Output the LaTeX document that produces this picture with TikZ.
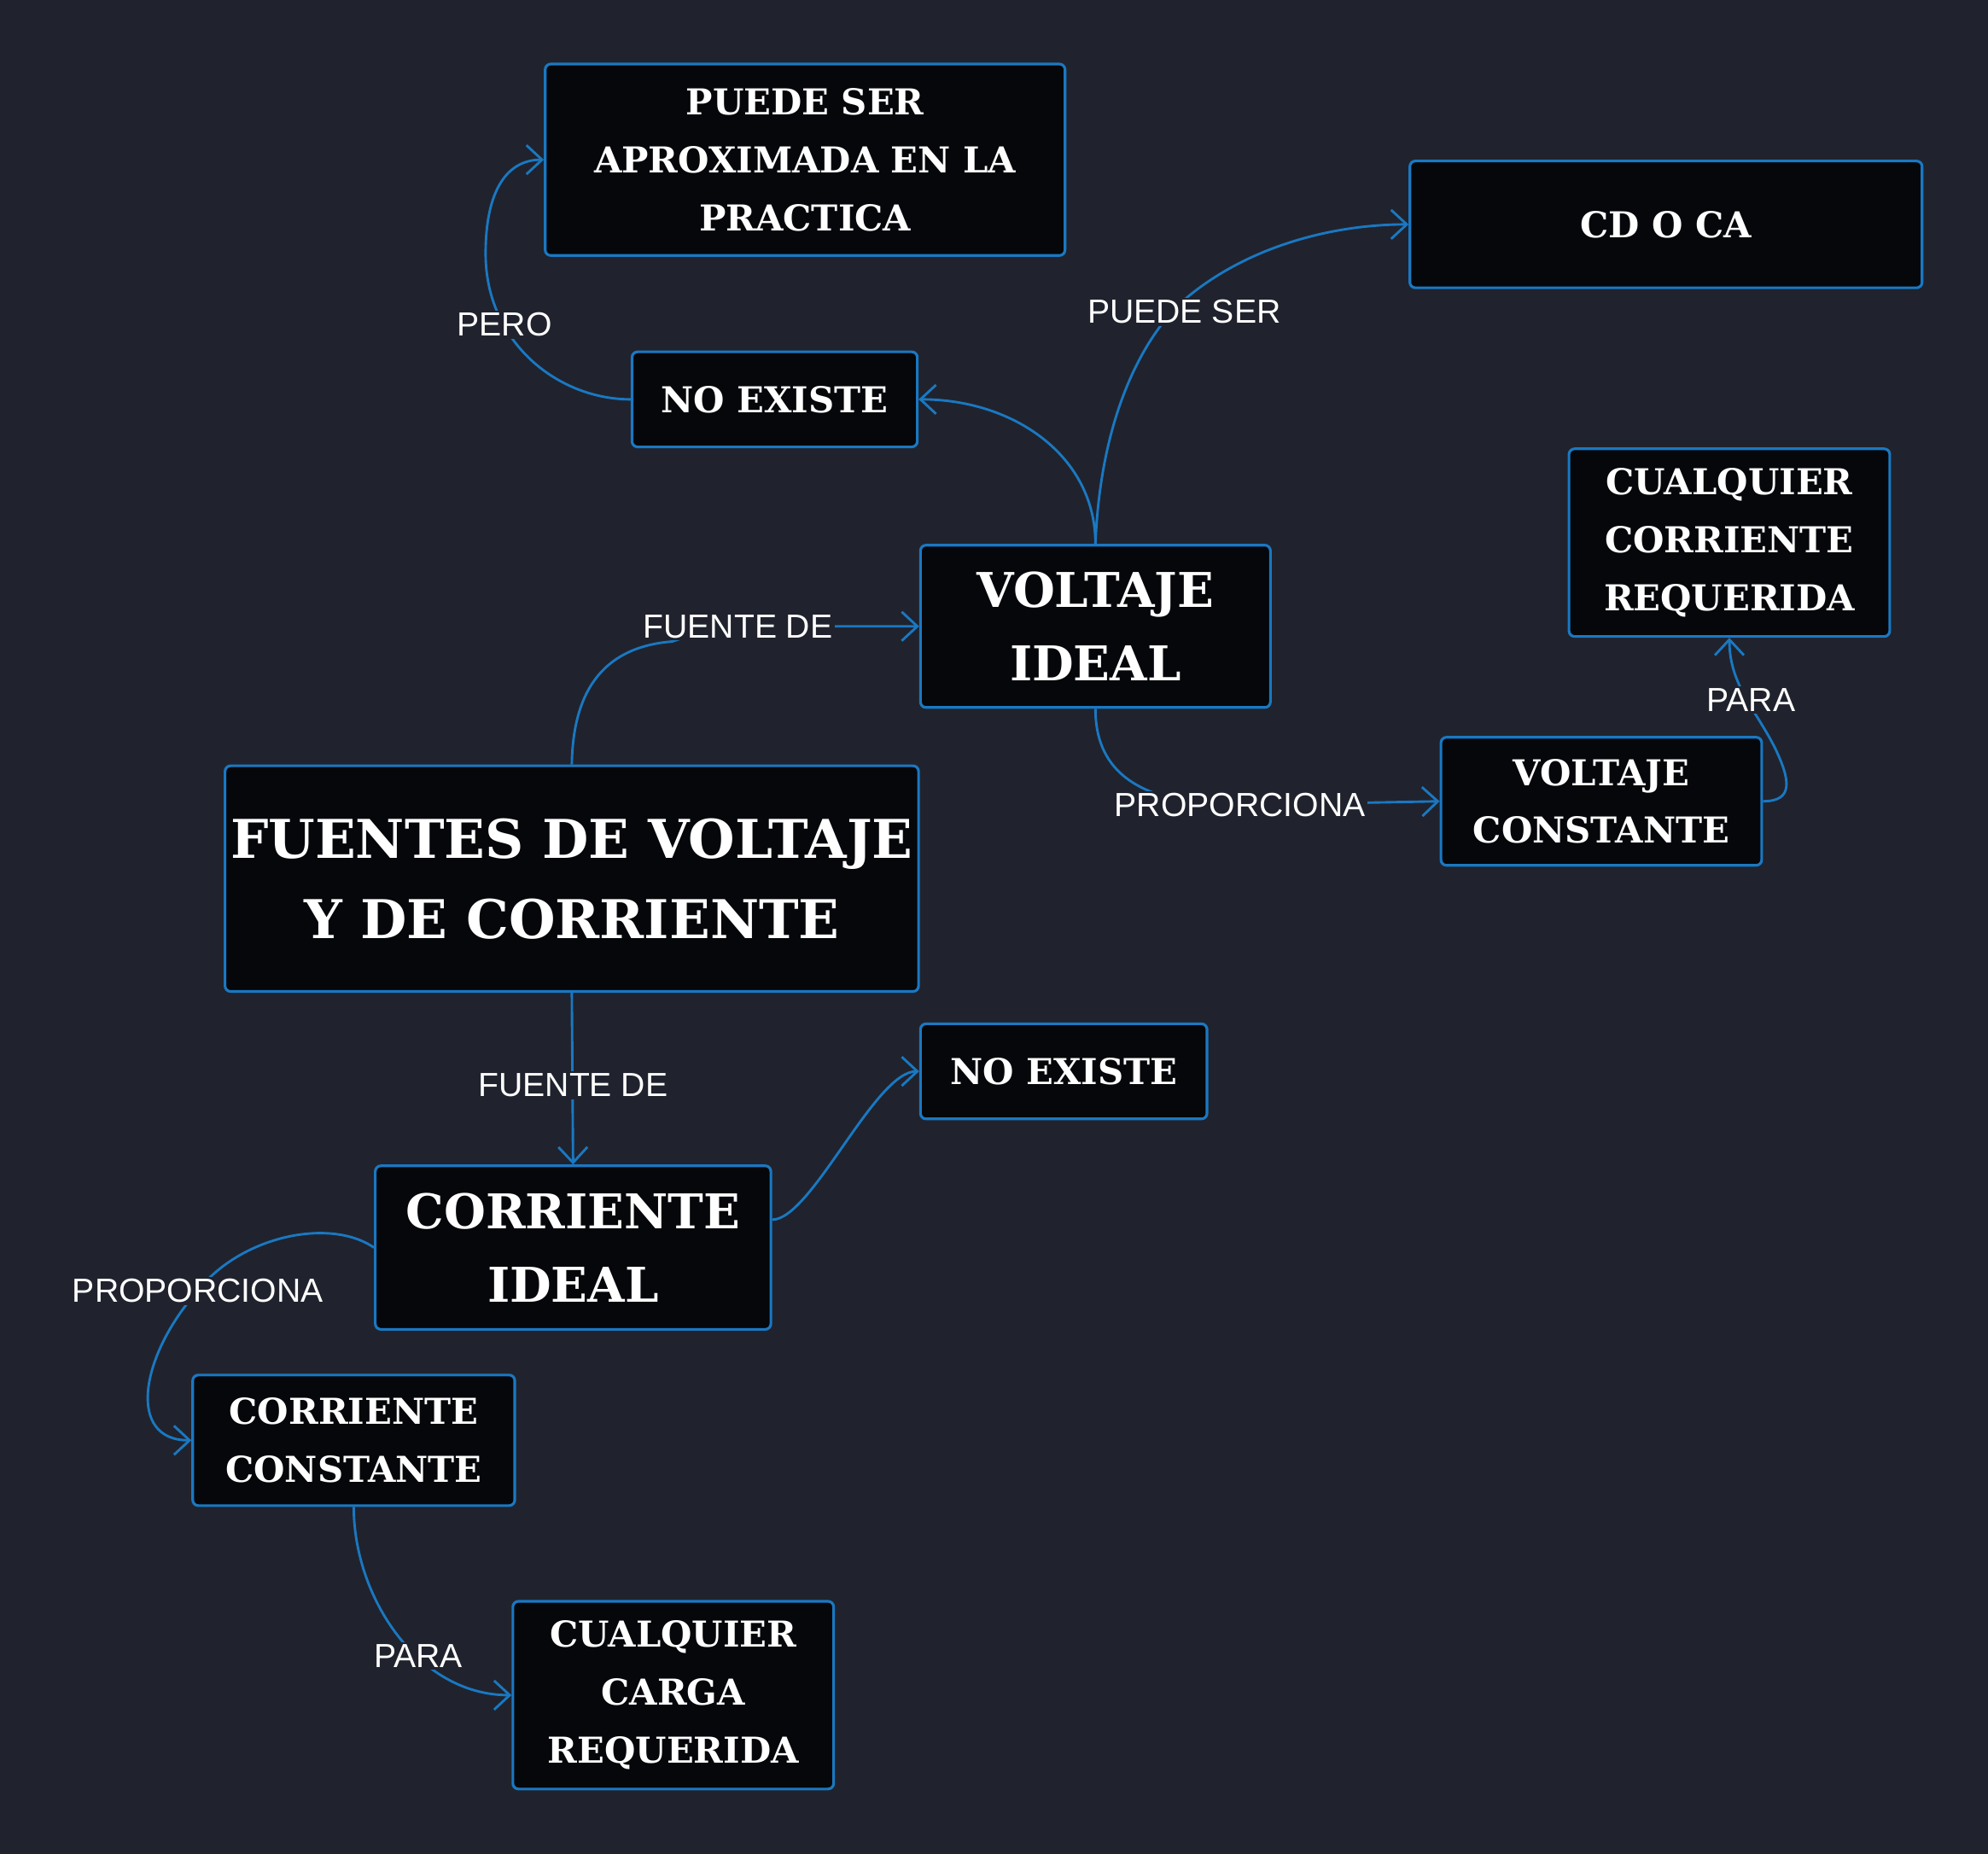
\documentclass[tikz,border=0pt]{standalone}
\usepackage{fontspec}
\setmainfont{DejaVu Serif}
\newfontfamily\labfont{Liberation Sans}
\usetikzlibrary{arrows.meta}
\definecolor{bg}{HTML}{20232D}
\definecolor{boxfill}{HTML}{05070A}
\definecolor{edge}{HTML}{1A78C2}
\tikzset{
 box/.style={draw=edge, fill=boxfill, line width=1.2pt, rounded corners=2.5pt, text=white, font=\bfseries, align=center, inner sep=0pt},
 conn/.style={draw=edge, line width=1.1pt, -{Straight Barb[length=7pt,width=13pt,line width=1.1pt]}},
 lab/.style={fill=bg, text=white, font=\labfont\fontsize{15}{17}\selectfont, inner sep=1pt}
}
\begin{document}
\begin{tikzpicture}[x={(0.02cm,0)}, y={(0,-0.02cm)}]
\fill[bg] (0,0) rectangle (1568,1462);
\useasboundingbox (0,0) rectangle (1568,1462);
\node[box, minimum width=547*0.02cm, minimum height=178*0.02cm, font=\bfseries\fontsize{24}{36}\selectfont] (main) at (451,693) {FUENTES DE VOLTAJE\\Y DE CORRIENTE};
\node[box, minimum width=276*0.02cm, minimum height=128*0.02cm, font=\bfseries\fontsize{21.5}{33}\selectfont] (volt) at (864,494) {VOLTAJE\\IDEAL};
\node[box, minimum width=225*0.02cm, minimum height=75*0.02cm, font=\bfseries\fontsize{16}{20}\selectfont] (ne1) at (611,315) {NO EXISTE};
\node[box, minimum width=410*0.02cm, minimum height=151*0.02cm, font=\bfseries\fontsize{16}{26}\selectfont] (pue) at (635,126) {PUEDE SER\\APROXIMADA EN LA\\PRACTICA};
\node[box, minimum width=404*0.02cm, minimum height=100*0.02cm, font=\bfseries\fontsize{16}{20}\selectfont] (cd) at (1314,177) {CD O CA};
\node[box, minimum width=253*0.02cm, minimum height=148*0.02cm, font=\bfseries\fontsize{16}{26}\selectfont] (ccr) at (1364,428) {CUALQUIER\\CORRIENTE\\REQUERIDA};
\node[box, minimum width=253*0.02cm, minimum height=101*0.02cm, font=\bfseries\fontsize{16}{26}\selectfont] (vc) at (1263,632) {VOLTAJE\\CONSTANTE};
\node[box, minimum width=226*0.02cm, minimum height=75*0.02cm, font=\bfseries\fontsize{16}{20}\selectfont] (ne2) at (839,845) {NO EXISTE};
\node[box, minimum width=312*0.02cm, minimum height=129*0.02cm, font=\bfseries\fontsize{21.5}{33}\selectfont] (ci) at (452,984) {CORRIENTE\\IDEAL};
\node[box, minimum width=254*0.02cm, minimum height=103*0.02cm, font=\bfseries\fontsize{16}{26}\selectfont] (cc) at (279,1136) {CORRIENTE\\CONSTANTE};
\node[box, minimum width=253*0.02cm, minimum height=148*0.02cm, font=\bfseries\fontsize{16}{26}\selectfont] (ccar) at (531,1337) {CUALQUIER\\CARGA\\REQUERIDA};

\draw[conn] (main.north) .. controls (452,540) and (480,510) .. (530,506) .. controls (560,496) and (570,494) .. (582,494) -- (volt.west);
\node[lab] at (582,494) {FUENTE DE};
\draw[conn] (volt.north) .. controls (864,360) and (800,315) .. (ne1.east);
\draw[conn] (volt.north) .. controls (868,330) and (900,270) .. (930,240) .. controls (980,195) and (1050,177) .. (cd.west);
\node[lab] at (934,246) {PUEDE SER};
\draw[conn] (ne1.west) .. controls (440,315) and (383,270) .. (383,200) .. controls (383,150) and (400,126) .. (pue.west);
\node[lab] at (398,256) {PERO};
\draw[conn] (volt.south) .. controls (864,610) and (900,635) .. (978,635) -- (vc.west);
\node[lab] at (978,635) {PROPORCIONA};
\draw[conn] (vc.east) .. controls (1415,632) and (1412,615) .. (1400,590) .. controls (1385,560) and (1364,540) .. (ccr.south);
\node[lab] at (1381,552) {PARA};
\draw[conn] (main.south) -- (ci.north);
\node[lab] at (452,856) {FUENTE DE};
\draw[conn] (ci.east |- 962,962) .. controls (640,962) and (690,845) .. (ne2.west);
\draw[conn] (ci.west |- 984,984) .. controls (260,960) and (190,975) .. (156,1018) .. controls (110,1070) and (100,1136) .. (cc.west);
\node[lab] at (156,1018) {PROPORCIONA};
\draw[conn] (cc.south) .. controls (279,1260) and (330,1337) .. (ccar.west);
\node[lab] at (330,1306) {PARA};
\end{tikzpicture}
\end{document}
